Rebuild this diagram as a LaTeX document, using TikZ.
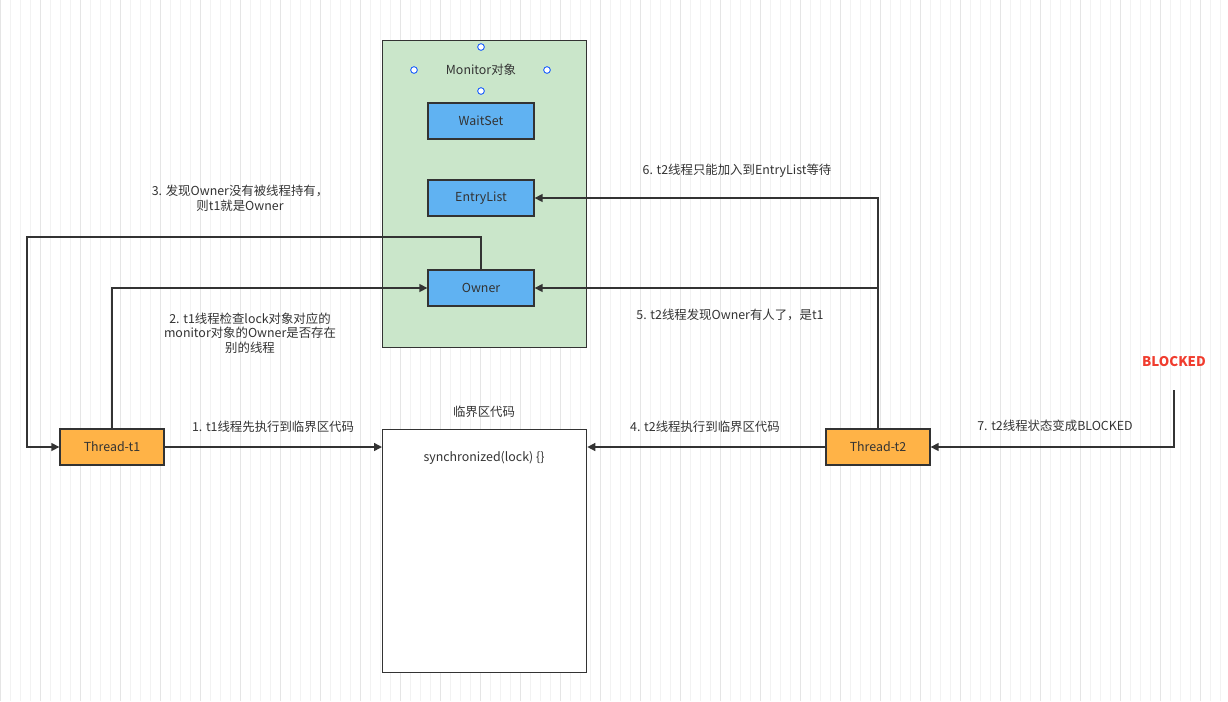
\documentclass[tikz,border=0pt]{standalone}
\usepackage{fontspec}
\setmainfont{Noto Sans CJK SC}
\usetikzlibrary{arrows.meta}
\definecolor{grn}{HTML}{CAE6CA}
\definecolor{blu}{HTML}{60B2F2}
\definecolor{org}{HTML}{FFB347}
\definecolor{ln}{HTML}{333333}
\definecolor{red1}{HTML}{F03C2E}
\begin{document}
\begin{tikzpicture}[x=0.75pt,y=-0.75pt,
  every node/.style={font=\fontsize{9.3}{11}\selectfont,text=ln},
  box/.style={draw=ln,line width=1pt,inner sep=0pt},
  item/.style={box,fill=blu,minimum width=79.5pt,minimum height=27pt},
  thr/.style={box,fill=org,minimum width=78pt,minimum height=27pt},
  conn/.style={draw=ln,line width=1.1pt,-{Triangle[length=6pt,width=6pt]}},
  handle/.style={circle,draw=blue!70!cyan,fill=white,inner sep=0pt,minimum size=5pt,line width=0.6pt}]
\useasboundingbox (0,0) rectangle (1228,701);
\draw[black!5,line width=0.3pt] (0,0) grid[step=10] (1228,701);
\draw[black!10,line width=0.4pt] (0,0) grid[step=40] (1228,701);
% monitor
\node[box,fill=grn,minimum width=153pt,minimum height=230pt,anchor=north west] (mon) at (382,40) {};
\node (mlab) at (481,70) {Monitor对象};
\node[handle] (h1) at (481,47) {};
\node[handle] (h2) at (414,70) {};
\node[handle] (h3) at (547,70) {};
\node[handle] (h4) at (481,91) {};
\node[item] (ws) at (481,121) {WaitSet};
\node[item] (el) at (481,198) {EntryList};
\node[item] (ow) at (481,288) {Owner};
% critical
\node (clab) at (484,412) {临界区代码};
\node[box,fill=white,minimum width=153pt,minimum height=182pt,anchor=north west] (cs) at (382,429) {};
\node (sync) at (484,458) {synchronized(lock) \{\}};
\node[thr] (t1) at (112,447) {Thread-t1};
\node[thr] (t2) at (878,447) {Thread-t2};
\node[text=red1,font=\fontsize{10}{12}\selectfont\bfseries] (bl) at (1174,362) {BLOCKED};
\coordinate (blb) at (1174,390);
% connectors
\draw[conn] (t1.east) -- (cs.west |- t1.east);
\node (l1) at (273,427) {1. t1线程先执行到临界区代码};
\draw[conn] (t1.north) |- (ow.west);
\node[align=center] (l2) at (250,333) {2. t1线程检查lock对象对应的\\monitor对象的Owner是否存在\\别的线程};
\coordinate (c3) at (27,237);
\draw[conn] (ow.north) |- (c3) |- (t1.west);
\node[align=center] (l3) at (240,198) {3. 发现Owner没有被线程持有，\\则t1就是Owner};
\draw[conn] (t2.west) -- (cs.east |- t2.west);
\node (l4) at (705,427) {4. t2线程执行到临界区代码};
\draw[conn] (t2.north) |- (ow.east);
\node (l5) at (730,315) {5. t2线程发现Owner有人了，是t1};
\draw[conn] (t2.north) |- (el.east);
\node (l6) at (737,171) {6. t2线程只能加入到EntryList等待};
\draw[conn] (blb) |- (t2.east);
\node (l7) at (1055,426) {7. t2线程状态变成BLOCKED};
\end{tikzpicture}
\end{document}
